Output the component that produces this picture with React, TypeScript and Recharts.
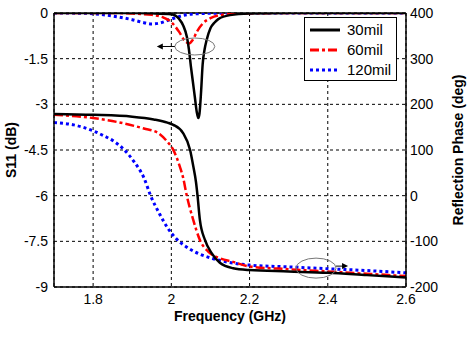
import React from "react";
import { LineChart, Line, XAxis, YAxis, CartesianGrid, ReferenceLine, ReferenceDot } from "recharts";

// frequency ticks (GHz) and axis ticks
const freqTicks = [1.8, 2, 2.2, 2.4, 2.6];
const s11Ticks = [-9, -7.5, -6, -4.5, -3, -1.5, 0];
const phaseTicks = [-200, -100, 0, 100, 200, 300, 400];

// S11 (dB)
const f30S11 = [1.7, 1.9, 1.95, 2.0, 2.02, 2.03, 2.04, 2.045, 2.05, 2.055, 2.06, 2.065, 2.069, 2.072, 2.076, 2.08, 2.085, 2.09, 2.1, 2.11, 2.12, 2.15, 2.2, 2.3, 2.6];
const s11_30 = [0, 0, -0.01, -0.04, -0.2, -0.4, -0.8, -1.2, -1.75, -2.25, -2.75, -3.25, -3.45, -3.3, -2.6, -1.7, -1.2, -0.9, -0.5, -0.32, -0.2, -0.07, -0.02, 0, 0];

const f60S11 = [1.7, 1.85, 1.9, 1.95, 1.98, 2.0, 2.02, 2.035, 2.045, 2.055, 2.065, 2.08, 2.1, 2.13, 2.2, 2.3, 2.6];
const s11_60 = [0, 0, -0.02, -0.06, -0.15, -0.3, -0.62, -0.92, -1.0, -0.88, -0.62, -0.35, -0.17, -0.06, -0.01, 0, 0];

const f120S11 = [1.7, 1.78, 1.82, 1.86, 1.9, 1.93, 1.95, 1.97, 2.0, 2.03, 2.06, 2.1, 2.2, 2.6];
const s11_120 = [0, -0.01, -0.05, -0.12, -0.22, -0.32, -0.36, -0.33, -0.2, -0.08, -0.03, -0.01, 0, 0];

// reflection phase (deg)
const f30Ph = [1.7, 1.8, 1.9, 1.955, 1.99, 2.005, 2.03, 2.048, 2.056, 2.063, 2.067, 2.073, 2.086, 2.103, 2.124, 2.158, 2.2, 2.3, 2.4, 2.5, 2.6];
const ph_30 = [179, 177, 173, 167, 160, 155, 137, 100, 65, 30, 0, -53, -97, -126, -147, -159, -163, -166, -169, -174, -179];

const f60Ph = [1.7, 1.8, 1.88, 1.93, 1.965, 1.99, 2.004, 2.022, 2.03, 2.039, 2.056, 2.073, 2.095, 2.124, 2.158, 2.2, 2.3, 2.4, 2.5, 2.6];
const ph_60 = [177, 170, 158, 147, 138, 118, 102, 63, 40, 2, -53, -97, -123, -137, -145, -155, -161, -166, -171, -176];

const f120Ph = [1.7, 1.75, 1.8, 1.83, 1.855, 1.88, 1.905, 1.93, 1.947, 1.97, 1.99, 2.01, 2.04, 2.073, 2.107, 2.16, 2.2, 2.3, 2.4, 2.5, 2.6];
const ph_120 = [160, 155, 142, 130, 118, 100, 74, 39, 0, -40, -70, -92, -113, -128, -138, -148, -152, -156, -160, -164, -169];

const toPoints = (f: number[], v: number[]) => f.map((x, i) => ({ f: x, v: v[i] }));

const series = [
  { name: "30mil", color: "#000000", dash: undefined, width: 2.5 },
  { name: "60mil", color: "#ff0000", dash: "9 3 3 3", width: 2.5 },
  { name: "120mil", color: "#0000ff", dash: "3 3", width: 3 },
];

const font = "'Liberation Sans', Arial, sans-serif";
const tick = { fill: "#000", fontSize: 14, fontFamily: font };

const LeftArrowMark = (p: any) => (
  <g>
    <ellipse cx={p.cx} cy={p.cy} rx={20} ry={8.5} fill="none" stroke="#777" strokeWidth={1} />
    <line x1={p.cx - 20} y1={p.cy} x2={p.cx - 33} y2={p.cy} stroke="#000" strokeWidth={1} />
    <polygon points={`${p.cx - 38},${p.cy} ${p.cx - 32},${p.cy - 3} ${p.cx - 32},${p.cy + 3}`} fill="#000" />
  </g>
);

const RightArrowMark = (p: any) => (
  <g>
    <ellipse cx={p.cx} cy={p.cy} rx={20} ry={10} fill="none" stroke="#777" strokeWidth={1} />
    <line x1={p.cx + 20} y1={p.cy - 2} x2={p.cx + 27} y2={p.cy - 2} stroke="#000" strokeWidth={1} />
    <polygon points={`${p.cx + 32},${p.cy - 2} ${p.cx + 26},${p.cy - 5} ${p.cx + 26},${p.cy + 1}`} fill="#000" />
  </g>
);

const titleStyle = { fontFamily: font, fontSize: 14, fontWeight: 700, fill: "#000" };

const App = () => {
  return (
    <div style={{ position: "absolute", left: 0, top: 0, width: 474, height: 350, background: "#fff", fontFamily: font }}>
      <LineChart width={474} height={350} margin={{ top: 13, right: 0, bottom: 0, left: 0 }}>
        <CartesianGrid yAxisId="left" stroke="#000" strokeDasharray="3 3" strokeWidth={1} />
        <XAxis
          type="number"
          dataKey="f"
          domain={[1.7, 2.6]}
          ticks={freqTicks}
          height={63}
          tick={tick}
          tickLine={false}
          tickSize={5}
          tickMargin={2}
          axisLine={{ stroke: "#000", strokeWidth: 1.5 }}
          allowDataOverflow
          label={(p: any) => {
            const vb = p.viewBox || { x: 54, y: 287, width: 352 };
            return (
              <text x={vb.x + vb.width / 2} y={vb.y + 34} textAnchor="middle" style={titleStyle}>
                Frequency (GHz)
              </text>
            );
          }}
        />
        <YAxis
          yAxisId="left"
          domain={[-9, 0]}
          ticks={s11Ticks}
          width={54}
          tick={tick}
          tickLine={false}
          tickSize={4}
          tickMargin={2}
          axisLine={{ stroke: "#000", strokeWidth: 1.5 }}
          allowDataOverflow
          label={(p: any) => {
            const vb = p.viewBox || { x: 0, y: 13, height: 274 };
            const cx = vb.x + 11;
            const cy = vb.y + vb.height / 2;
            return (
              <text x={cx} y={cy} transform={`rotate(-90 ${cx} ${cy})`} textAnchor="middle" dominantBaseline="central" style={titleStyle}>
                S11 (dB)
              </text>
            );
          }}
        />
        <YAxis
          yAxisId="right"
          orientation="right"
          domain={[-200, 400]}
          ticks={phaseTicks}
          width={68}
          tick={tick}
          tickLine={false}
          tickSize={2}
          tickMargin={2}
          axisLine={{ stroke: "#000", strokeWidth: 1.5 }}
          allowDataOverflow
          label={(p: any) => {
            const vb = p.viewBox || { x: 406, y: 13, height: 274 };
            const cx = vb.x + 52;
            const cy = vb.y + vb.height / 2;
            return (
              <text x={cx} y={cy} transform={`rotate(-90 ${cx} ${cy})`} textAnchor="middle" dominantBaseline="central" style={titleStyle}>
                Reflection Phase (deg)
              </text>
            );
          }}
        />
        <ReferenceLine yAxisId="left" y={0} stroke="#000" strokeWidth={1.5} />

        <Line yAxisId="right" data={toPoints(f120Ph, ph_120)} dataKey="v" type="monotone" stroke={series[2].color} strokeWidth={series[2].width} strokeDasharray={series[2].dash} dot={false} activeDot={false} isAnimationActive={false} />
        <Line yAxisId="right" data={toPoints(f60Ph, ph_60)} dataKey="v" type="monotone" stroke={series[1].color} strokeWidth={series[1].width} strokeDasharray={series[1].dash} dot={false} activeDot={false} isAnimationActive={false} />
        <Line yAxisId="right" data={toPoints(f30Ph, ph_30)} dataKey="v" type="monotone" stroke={series[0].color} strokeWidth={series[0].width} dot={false} activeDot={false} isAnimationActive={false} />

        <Line yAxisId="left" data={toPoints(f120S11, s11_120)} dataKey="v" type="monotone" stroke={series[2].color} strokeWidth={series[2].width} strokeDasharray={series[2].dash} dot={false} activeDot={false} isAnimationActive={false} />
        <Line yAxisId="left" data={toPoints(f60S11, s11_60)} dataKey="v" type="monotone" stroke={series[1].color} strokeWidth={series[1].width} strokeDasharray={series[1].dash} dot={false} activeDot={false} isAnimationActive={false} />
        <Line yAxisId="left" data={toPoints(f30S11, s11_30)} dataKey="v" type="monotone" stroke={series[0].color} strokeWidth={series[0].width} dot={false} activeDot={false} isAnimationActive={false} />

        <ReferenceDot yAxisId="left" x={2.06} y={-1.1} shape={LeftArrowMark} />
        <ReferenceDot yAxisId="left" x={2.37} y={-8.38} shape={RightArrowMark} />
      </LineChart>

      <div
        style={{
          position: "absolute",
          left: 304,
          top: 17,
          width: 91,
          height: 62,
          border: "1px solid #000",
          background: "#fff",
        }}
      >
        {series.map((s, i) => (
          <div key={s.name} style={{ position: "absolute", left: 0, top: 3 + i * 20, height: 20, width: 91 }}>
            <svg width={40} height={20} style={{ position: "absolute", left: 5, top: 0 }}>
              <line x1={0} y1={9} x2={30} y2={9} stroke={s.color} strokeWidth={3} strokeDasharray={s.dash} />
            </svg>
            <span style={{ position: "absolute", left: 42, top: 0, fontSize: 15, lineHeight: "18px", color: "#000" }}>{s.name}</span>
          </div>
        ))}
      </div>
    </div>
  );
};

export default App;
